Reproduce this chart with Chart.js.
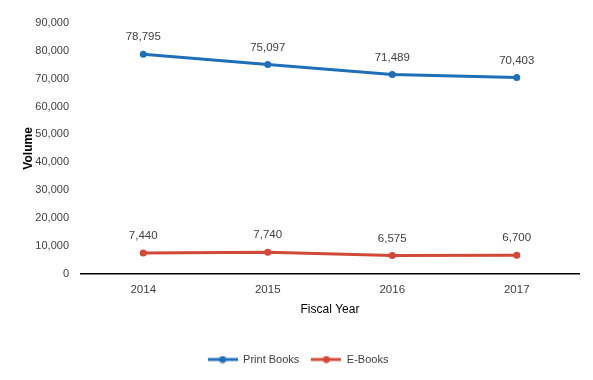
<!DOCTYPE html>
<html>
<head>
<meta charset="utf-8">
<script src="https://cdn.jsdelivr.net/npm/chart.js@4/dist/chart.umd.min.js"></script>
<style>
  html, body { margin: 0; padding: 0; background: #fff; }
  #wrap { width: 593px; height: 380px; }
</style>
</head>
<body>
<div id="wrap"><canvas id="c"></canvas></div>
<script>
// Dati
const ANNI        = ['2014', '2015', '2016', '2017'];
const PRINT_BOOKS = [78795, 75097, 71489, 70403];
const E_BOOKS     = [7440, 7740, 6575, 6700];

const BLU   = '#1f6fb8';
const ROSSO = '#d24a37';
const FONT  = "'Liberation Sans', Arial, sans-serif";

const fmt = v => v.toLocaleString('en-US');

// Simbolo legenda: linea con pallino
function legendIcon(color) {
  const c = document.createElement('canvas');
  c.width = 30; c.height = 8;
  const g = c.getContext('2d');
  g.strokeStyle = color; g.lineWidth = 3;
  g.beginPath(); g.moveTo(0, 4); g.lineTo(30, 4); g.stroke();
  g.fillStyle = color;
  g.beginPath(); g.arc(15, 4, 3.5, 0, Math.PI * 2); g.fill();
  return c;
}

// Etichette sopra i punti
const valueLabels = {
  id: 'valueLabels',
  afterDatasetsDraw(chart) {
    const ctx = chart.ctx;
    ctx.save();
    ctx.font = '11.5px ' + FONT;
    ctx.fillStyle = '#404040';
    ctx.textAlign = 'center';
    ctx.textBaseline = 'middle';
    chart.data.datasets.forEach((ds, i) => {
      chart.getDatasetMeta(i).data.forEach((pt, j) => {
        ctx.fillText(fmt(ds.data[j]), pt.x, pt.y - 17);
      });
    });
    ctx.restore();
  }
};

new Chart(document.getElementById('c'), {
  type: 'line',
  data: {
    labels: ANNI,
    datasets: [
      { label: 'Print Books', data: PRINT_BOOKS, borderColor: BLU, backgroundColor: BLU,
        borderWidth: 3, pointRadius: 3.5, pointBackgroundColor: BLU, pointBorderWidth: 0 },
      { label: 'E-Books', data: E_BOOKS, borderColor: ROSSO, backgroundColor: ROSSO,
        borderWidth: 3, pointRadius: 3.5, pointBackgroundColor: ROSSO, pointBorderWidth: 0 }
    ]
  },
  options: {
    responsive: true,
    maintainAspectRatio: false,
    animation: false,
    layout: { padding: { top: 23, right: 14, left: 17, bottom: 5 } },
    scales: {
      x: {
        offset: true,
        grid: { display: false, drawTicks: false },
        border: { display: true, color: '#000', width: 1.5 },
        ticks: { color: '#404040', font: { family: FONT, size: 11.5 }, padding: 9 },
        title: { display: true, text: 'Fiscal Year', color: '#000', font: { family: FONT, size: 12 },
          padding: { top: -3, bottom: 25 } }
      },
      y: {
        min: 0, max: 90000,
        grid: { display: false, drawTicks: false },
        border: { display: false },
        ticks: { stepSize: 10000, color: '#404040', font: { family: FONT, size: 11 }, padding: 12,
          callback: v => fmt(v) },
        title: { display: true, text: 'Volume', color: '#000', font: { family: FONT, size: 12, weight: 'bold' } },
        afterFit: s => { s.width = 64; }
      }
    },
    plugins: {
      legend: {
        position: 'bottom',
        labels: { usePointStyle: true, pointStyleWidth: 30, color: '#404040',
          font: { family: FONT, size: 11 }, padding: 12,
          generateLabels: chart => chart.data.datasets.map((ds, i) => ({
            text: ds.label, pointStyle: legendIcon(ds.borderColor), fillStyle: ds.borderColor,
            strokeStyle: ds.borderColor, lineWidth: 0, datasetIndex: i, fontColor: '#404040'
          }))
        }
      },
      tooltip: { enabled: false }
    }
  },
  plugins: [valueLabels]
});
</script>
</body>
</html>
